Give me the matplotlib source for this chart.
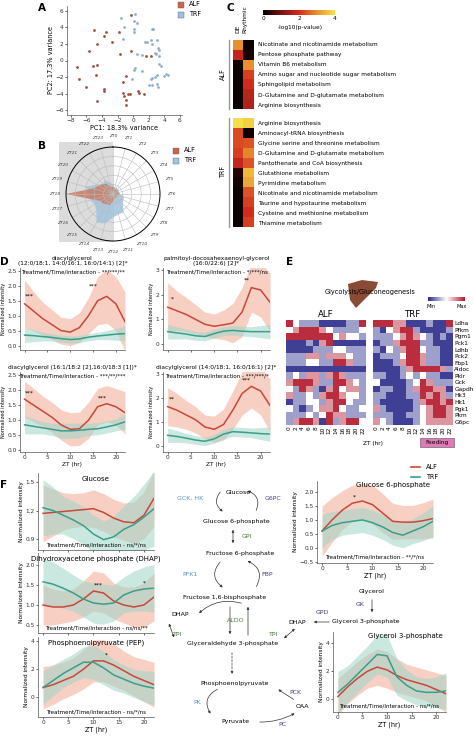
import numpy as np
import matplotlib
matplotlib.use("Agg")
import matplotlib.pyplot as plt
from matplotlib.colors import LinearSegmentedColormap
from matplotlib.patches import FancyArrowPatch, Rectangle, Polygon

W, H = 474, 736
ALF_C, TRF_C = "#c8483a", "#3a9e8c"
ALF_F, TRF_F = "#f2a892", "#9fd6c8"
ALF_PT, TRF_PT = "#a0503c", "#8fb0cc"
BLUE_E, PURP_E, GREEN_E = "#5b8fd0", "#4a3d8f", "#4a7a3a"
FS = 4.2

# ---------------- data ----------------
# A: PCA
alf_pc1 = [-0.3, -5, -3.7, -3.5, -1.8, -4.6, -2.7, -5.7, -1.7, -0.3, 1.7, 2.3, -7.2, -6.9, -5.1, -4.7, -4.8, -6,
           -3.7, -3.8, -1.3, -0.9, -1.3, -1.2, -0.9, -0.9, -0.6, 0.7, 0.8, 1.4, -4.6, -0.4]
alf_pc2 = [5.5, 3.7, 3.0, 3.5, 3.5, 2.0, 2.2, 1.1, 0.8, 1.2, 0.6, 0.5, -0.8, -2.3, -0.7, -0.6, -1.8, -3.2,
           -3.5, -3.7, -2.6, -1.9, -3.9, -4.3, -4.8, -5.4, -4.1, -3.7, -3.9, -4.1, -4.9, -4.0]
trf_pc1 = [-1.5, 0.2, 0.1, 0.5, -1.2, 0.1, 0.1, -1.3, 1.5, 1.8, 2.3, 2.4, 2.6, 3.1, 2.5, 3.2, 3.3, 2.8, 3.0, 1.2,
           3.4, 0.5, 3.3, 3.6, 4.2, 4.5, 4.0, 3.1, 2.8, 2.5, 2.3, 1.2, 0.2, 0.1, -0.1, 2.0, 2.5, 3.2, 3.1]
trf_pc2 = [5.2, 5.6, 4.8, 4.5, 4.0, 3.8, 3.4, 2.6, 2.2, 2.3, 2.5, 3.8, 3.8, 2.5, 2.0, 1.5, 1.3, 0.9, 0.8, 0.7,
           0.6, 0.8, -0.4, -0.7, -1.6, -1.7, -1.9, -1.8, -2.0, -2.1, -2.3, -1.3, -0.9, -1.2, -2.3, -3.0, -3.0, -3.2, -2.9]

# B: radar (ZT0..ZT23)
zt_labels = ["ZT%d" % i for i in range(24)]
radar_alf = [0.15, 0.12, 0.12, 0.12, 0.12, 0.12, 0.15, 0.1, 0.1, 0.1, 0.1, 0.1, 0.15, 0.25, 0.25, 0.3,
             0.3, 0.45, 1.0, 0.45, 0.35, 0.3, 0.25, 0.15]
radar_trf = [0.2, 0.15, 0.15, 0.15, 0.15, 0.12, 0.15, 0.25, 0.25, 0.3, 0.45, 0.45, 0.5, 0.65, 0.7, 0.5,
             0.45, 0.5, 0.5, 0.6, 0.4, 0.3, 0.35, 0.25]

# C: pathway enrichment
alf_paths = ["Nicotinate and nicotinamide metabolism", "Pentose phosphate pathway", "Vitamin B6 metabolism",
             "Amino sugar and nucleotide sugar metabolism", "Sphingolipid metabolism",
             "D-Glutamine and D-glutamate metabolism", "Arginine biosynthesis"]
alf_de = [3.0, 1.8, 0.1, 0.1, 0.1, 0.1, 0.1]
alf_rhy = [0.1, 0.2, 3.0, 2.2, 2.0, 1.7, 1.6]
trf_paths = ["Arginine biosynthesis", "Aminoacyl-tRNA biosynthesis", "Glycine serine and threonine metabolism",
             "D-Glutamine and D-glutamate metabolism", "Pantothenate and CoA biosynthesis",
             "Glutathione metabolism", "Pyrimidine metabolism", "Nicotinate and nicotinamide metabolism",
             "Taurine and hypotaurine metabolism", "Cysteine and methionine metabolism", "Thiamine metabolism"]
trf_de = [4.0, 2.3, 2.3, 2.2, 1.8, 0.3, 0.2, 0.1, 0.1, 0.1, 0.1]
trf_rhy = [3.8, 0.1, 2.4, 2.9, 2.4, 3.5, 3.3, 2.4, 2.2, 2.0, 2.2]

# D / F: smoothed profiles
zt = [0, 2, 4, 6, 8, 10, 12, 14, 16, 18, 20, 22]
d1_alf = [1.4, 1.15, 0.9, 0.7, 0.5, 0.45, 0.6, 1.0, 1.5, 1.65, 1.4, 0.8]
d1_trf = [0.35, 0.33, 0.3, 0.27, 0.23, 0.2, 0.22, 0.28, 0.32, 0.35, 0.38, 0.4]
d1_alf_hw = [0.8, 0.65, 0.55, 0.5, 0.45, 0.45, 0.5, 0.6, 0.8, 0.9, 0.9, 1.0]
d1_trf_hw = [0.25, 0.2, 0.15, 0.12, 0.12, 0.12, 0.12, 0.12, 0.12, 0.15, 0.2, 0.25]
d2_alf = [1.5, 1.35, 1.2, 1.0, 0.8, 0.72, 0.78, 0.85, 1.3, 2.3, 2.2, 1.7]
d2_trf = [0.5, 0.45, 0.4, 0.33, 0.3, 0.42, 0.52, 0.55, 0.52, 0.5, 0.5, 0.5]
d2_alf_hw = [1.0, 0.8, 0.7, 0.6, 0.5, 0.5, 0.6, 0.8, 1.0, 1.0, 1.1, 1.2]
d2_trf_hw = [0.3, 0.25, 0.2, 0.18, 0.18, 0.18, 0.18, 0.2, 0.2, 0.2, 0.25, 0.3]
d3_alf = [1.7, 1.5, 1.3, 1.1, 0.85, 0.7, 0.72, 1.0, 1.45, 1.55, 1.45, 1.25]
d3_trf = [0.85, 0.8, 0.75, 0.7, 0.65, 0.65, 0.67, 0.7, 0.72, 0.78, 0.85, 0.95]
d3_alf_hw = [0.6, 0.55, 0.5, 0.5, 0.5, 0.55, 0.55, 0.6, 0.6, 0.6, 0.6, 0.7]
d3_trf_hw = [0.3, 0.25, 0.2, 0.2, 0.25, 0.25, 0.25, 0.2, 0.2, 0.2, 0.2, 0.25]
d4_alf = [1.65, 1.5, 1.3, 1.1, 0.8, 0.7, 0.9, 1.5, 2.2, 2.5, 2.3, 1.7]
d4_trf = [0.45, 0.4, 0.33, 0.25, 0.2, 0.3, 0.5, 0.6, 0.58, 0.55, 0.52, 0.5]
d4_alf_hw = [0.8, 0.7, 0.6, 0.55, 0.5, 0.55, 0.65, 0.8, 0.9, 0.9, 1.0, 1.1]
d4_trf_hw = [0.3, 0.25, 0.2, 0.18, 0.18, 0.18, 0.2, 0.2, 0.2, 0.2, 0.25, 0.3]

glc_alf = [1.17, 1.18, 1.19, 1.2, 1.21, 1.22, 1.18, 1.12, 1.08, 1.07, 1.15, 1.33]
glc_trf = [1.23, 1.2, 1.15, 1.1, 1.04, 0.95, 0.89, 0.92, 1.0, 1.05, 1.13, 1.22]
glc_alf_hw = [0.3, 0.25, 0.2, 0.18, 0.18, 0.2, 0.2, 0.2, 0.2, 0.22, 0.25, 0.3]
glc_trf_hw = [0.3, 0.25, 0.2, 0.2, 0.2, 0.2, 0.2, 0.22, 0.25, 0.3, 0.35, 0.4]
dhap_alf = [1.0, 0.95, 0.95, 1.0, 1.15, 1.35, 1.3, 1.1, 1.0, 0.95, 1.0, 1.2]
dhap_trf = [1.58, 1.52, 1.42, 1.3, 1.15, 1.05, 1.02, 1.05, 1.25, 1.35, 1.4, 1.42]
dhap_alf_hw = [0.5, 0.45, 0.4, 0.4, 0.45, 0.5, 0.5, 0.45, 0.45, 0.5, 0.55, 0.6]
dhap_trf_hw = [0.6, 0.55, 0.5, 0.45, 0.45, 0.5, 0.5, 0.45, 0.45, 0.5, 0.55, 0.6]
pep_alf = [0.7, 0.9, 1.2, 1.5, 2.0, 2.6, 2.6, 2.3, 1.9, 1.5, 1.2, 0.9]
pep_trf = [0.7, 1.2, 1.7, 2.1, 2.5, 2.5, 2.1, 1.6, 1.3, 1.0, 0.8, 0.65]
pep_alf_hw = [1.5, 1.4, 1.3, 1.3, 1.4, 1.5, 1.5, 1.5, 1.4, 1.4, 1.5, 1.6]
pep_trf_hw = [1.2, 1.1, 1.0, 1.0, 1.1, 1.2, 1.2, 1.1, 1.0, 1.0, 1.1, 1.2]
g6p_alf = [0.6, 1.0, 1.35, 1.6, 1.68, 1.55, 1.25, 0.95, 0.92, 0.92, 0.97, 1.05]
g6p_trf = [0.6, 0.8, 0.9, 0.95, 1.0, 0.9, 0.75, 0.55, 0.45, 0.6, 0.75, 0.95]
g6p_alf_hw = [0.9, 0.8, 0.7, 0.65, 0.65, 0.7, 0.7, 0.65, 0.6, 0.6, 0.65, 0.7]
g6p_trf_hw = [0.6, 0.5, 0.45, 0.45, 0.45, 0.45, 0.45, 0.45, 0.45, 0.45, 0.5, 0.55]
gro3p_alf = [0.2, 0.9, 1.5, 2.0, 2.3, 2.1, 1.7, 1.4, 1.2, 1.0, 0.7, 0.4]
gro3p_trf = [0.5, 1.1, 1.8, 2.5, 3.2, 3.1, 1.6, 1.0, 0.6, 0.5, 0.5, 0.6]
gro3p_alf_hw = [1.3, 1.2, 1.2, 1.2, 1.3, 1.3, 1.2, 1.1, 1.1, 1.1, 1.2, 1.3]
gro3p_trf_hw = [1.5, 1.3, 1.3, 1.3, 1.4, 1.5, 1.3, 1.1, 1.0, 1.0, 1.1, 1.3]

# E: gene heatmaps (R=high, B=low)
genes = ["Ldha", "Pfkm", "Pgm1", "Pck1", "Ldhb", "Pck2", "Fbp1", "Aldoc", "Pklr", "Gck", "Gapdh", "Hk3",
         "Hk1", "Pgk1", "Pkm", "G6pc"]
heat_alf = ["RwbbbBBBBbbR", "wrRRRrwbbbbw", "RRRRRRRwrwwb", "BBBbBrRBBBBB", "BBBBbbbwwbbb", "bbbrrbrrrwbb",
            "bbbwwbbRRrbb", "BBBBBBBBBBBB", "bwbrrbrRrbbb", "rRRRrbbRRrwb", "wbRrbBrRwrrb", "rbbwbrRRrwwb",
            "BbbwwbrRRwbb", "wbBbwrrRwbbw", "bbbwbwRrrbbb", "brRRrBRbrRRw"]
heat_trf = ["RRRrrBBBbBBR", "bBwrRRbBBBBb", "bbbwrRrwbBbB", "BbbrRRRbbBBB", "bBwbrRRwbbBB", "BbbbwRRrbbBB",
            "BBBbrRRrbbBB", "BBBBbrRRRRrb", "bbBBbwbwbbBB", "wBBBBbwRrbbb", "BbbBBbrRRrrB", "bbBBBbbRrRrb",
            "bBBBBBbrRRrR", "rbBBBBbwrRRr", "bbbBBbbwrRRr", "rwbBBBbwrrrr"]
LEVEL = {"R": 0.9, "r": 0.45, "w": 0.0, "b": -0.45, "B": -0.9}
zt_heat = [str(z) for z in zt]

# ---------------- figure ----------------
fig = plt.figure(figsize=(W / 100, H / 100), dpi=100)


def ax_px(x0, y0, w, h, **kw):
    return fig.add_axes([x0 / W, 1 - (y0 + h) / H, w / W, h / H], **kw)


def ftext(x, y, s, **kw):
    kw.setdefault("fontsize", FS)
    kw.setdefault("ha", "center")
    kw.setdefault("va", "center")
    fig.text(x / W, 1 - y / H, s, **kw)


def style(ax):
    for sp in ["top", "right"]:
        ax.spines[sp].set_visible(False)
    for sp in ["left", "bottom"]:
        ax.spines[sp].set_linewidth(0.5)
        ax.spines[sp].set_color("#555555")
    ax.tick_params(labelsize=FS, length=1.5, width=0.5, pad=1, colors="#333333")


def curves(ax, alf, alf_hw, trf, trf_hw):
    a, ah, t, th = map(np.array, (alf, alf_hw, trf, trf_hw))
    ax.fill_between(zt, a - ah, a + ah, color=ALF_F, alpha=0.55, lw=0)
    ax.fill_between(zt, t - th, t + th, color=TRF_F, alpha=0.55, lw=0)
    ax.plot(zt, alf, color=ALF_C, lw=1.1)
    ax.plot(zt, trf, color=TRF_C, lw=1.1)
    ax.set_xlim(-1, 22)
    ax.set_xticks([0, 5, 10, 15, 20])
    style(ax)


# panel labels
for lab, x, y in [("A", 42, 8), ("B", 42, 146), ("C", 230, 8), ("D", 4, 262), ("E", 290, 262), ("F", 4, 485)]:
    ftext(x, y, lab, fontsize=7.5, fontweight="bold")

# ---- A ----
ax = ax_px(67, 6, 115, 109)
ax.scatter(alf_pc1, alf_pc2, s=4, color=ALF_PT, lw=0)
ax.scatter(trf_pc1, trf_pc2, s=4, color=TRF_PT, lw=0)
ax.set_xlim(-8.5, 6.3)
ax.set_ylim(-6.6, 6.6)
ax.set_xticks(range(-8, 7, 2))
ax.set_yticks(range(-6, 7, 2))
style(ax)
ax.set_xlabel("PC1: 18.3% variance", fontsize=FS + 0.5, labelpad=1)
ax.set_ylabel("PC2: 17.3% variance", fontsize=FS + 0.5, labelpad=1)
for (lab, col, y) in [("ALF", "#c8644a", 4), ("TRF", "#9fc0dc", 14)]:
    fig.patches.append(Rectangle((178 / W, 1 - (y + 3.5) / H), 6 / W, 6 / H, transform=fig.transFigure,
                                 facecolor=col, edgecolor="#666666", lw=0.3))
    ftext(189, y + 0.5, lab, ha="left", fontsize=FS + 0.5)

# ---- B ----
bg = ax_px(59, 142, 54, 100)
bg.set_facecolor("#dcdcdc")
bg.set_xticks([])
bg.set_yticks([])
for sp in bg.spines.values():
    sp.set_visible(False)
bg.set_zorder(0)
ax = ax_px(66, 147, 94, 94, projection="polar")
ax.set_zorder(1)
ax.set_facecolor("none")
ax.set_theta_zero_location("N")
ax.set_theta_direction(-1)
th = np.deg2rad(np.arange(24) * 15)
thc = np.append(th, th[0])
ax.fill(thc, radar_trf + radar_trf[:1], color="#9fc5e0", alpha=0.85, lw=0)
ax.fill(thc, radar_alf + radar_alf[:1], color="#c8806a", alpha=0.9, lw=0)
ax.set_ylim(0, 1)
ax.set_yticks([0.2, 0.4, 0.6, 0.8])
ax.set_yticklabels([])
ax.set_xticks(th)
ax.set_xticklabels(zt_labels, fontsize=3.2, style="italic", color="#444444")
ax.tick_params(pad=-2.5)
ax.grid(color="#bbbbbb", lw=0.4)
ax.spines["polar"].set_linewidth(0.7)
for (lab, col, y) in [("ALF", "#c8644a", 150), ("TRF", "#9fc5e0", 160)]:
    fig.patches.append(Rectangle((173 / W, 1 - (y + 3.5) / H), 6 / W, 6 / H, transform=fig.transFigure,
                                 facecolor=col, edgecolor="#666666", lw=0.3))
    ftext(184, y + 0.5, lab, ha="left", fontsize=FS + 0.5)

# ---- C ----
cmap_c = LinearSegmentedColormap.from_list("c", ["#000000", "#7a1414", "#d42a1e", "#e8902e", "#f5e04a"])
ax = ax_px(233, 40, 20, 69)
ax.imshow(np.array([alf_de, alf_rhy]).T, cmap=cmap_c, vmin=0, vmax=4, aspect="auto")
ax.axis("off")
ax = ax_px(233, 118, 20, 109)
ax.imshow(np.array([trf_de, trf_rhy]).T, cmap=cmap_c, vmin=0, vmax=4, aspect="auto")
ax.axis("off")
for i, p in enumerate(alf_paths):
    ftext(258, 44 + i * 10.2, p, ha="left", fontsize=FS)
for i, p in enumerate(trf_paths):
    ftext(258, 123.5 + i * 10, p, ha="left", fontsize=FS)
ftext(238, 33, "DE", rotation=90, va="bottom")
ftext(245, 33, "Rhythmic", rotation=90, va="bottom")
fig.add_artist(plt.Line2D([229 / W] * 2, [1 - 40 / H, 1 - 109 / H], color="#999999", lw=1))
fig.add_artist(plt.Line2D([229 / W] * 2, [1 - 118 / H, 1 - 227 / H], color="#999999", lw=1))
ftext(223, 74, "ALF", rotation=90, fontsize=FS + 0.5)
ftext(223, 172, "TRF", rotation=90, fontsize=FS + 0.5)
cax = ax_px(263, 10, 72, 5)
cax.imshow(np.linspace(0, 4, 100)[None, :], cmap=cmap_c, aspect="auto", extent=[0, 4, 0, 1])
cax.set_yticks([])
cax.set_xticks([0, 2, 4])
cax.tick_params(labelsize=FS, length=0, pad=1)
for sp in cax.spines.values():
    sp.set_visible(False)
ftext(300, 28, "-log10(p-value)")

# ---- D ----
d_specs = [
    ((20, 268, 105, 82), d1_alf, d1_alf_hw, d1_trf, d1_trf_hw, [0, 0.5, 1.0, 1.5, 2.0, 2.5], (-0.15, 2.6),
     "diacylglycerol\n(12:0/18:1, 14:0/16:1, 16:0/14:1) [2]*", "Treatment/Time/Interaction - **/***/**",
     [(1, 1.6, "***"), (15, 1.95, "***")]),
    ((163, 268, 107, 82), d2_alf, d2_alf_hw, d2_trf, d2_trf_hw, [0, 1, 2, 3], (-0.25, 3.1),
     "palmitoyl-docosahexaenoyl-glycerol\n(16:0/22:6) [2]*", "Treatment/Time/Interaction - */***/ns",
     [(1, 1.75, "*"), (17, 2.55, "**")]),
    ((20, 372, 105, 80), d3_alf, d3_alf_hw, d3_trf, d3_trf_hw, [0, 0.5, 1.0, 1.5, 2.0, 2.5], (-0.05, 2.6),
     "diacylglycerol (16:1/18:2 [2],16:0/18:3 [1])*", "Treatment/Time/Interaction - ***/**/***",
     [(1, 1.85, "***"), (17, 1.7, "***")]),
    ((163, 372, 107, 80), d4_alf, d4_alf_hw, d4_trf, d4_trf_hw, [0, 1, 2, 3], (-0.25, 3.1),
     "diacylglycerol (14:0/18:1, 16:0/16:1) [2]*", "Treatment/Time/Interaction - ***/***/*",
     [(1, 1.9, "**"), (17, 2.7, "***")]),
]
for i, (box, a, ah, t, thw, yt, yl, title, stat, stars) in enumerate(d_specs):
    ax = ax_px(*box)
    curves(ax, a, ah, t, thw)
    ax.set_yticks(yt)
    ax.set_ylim(*yl)
    ax.set_ylabel("Normalized intensity", fontsize=3.6, labelpad=1)
    ax.set_title(title, fontsize=FS, pad=2, linespacing=1.0)
    ax.text(0.5, 0.93, stat, transform=ax.transAxes, ha="center", fontsize=FS - 0.2)
    for x, y, s in stars:
        ax.text(x, y, s, ha="center", fontsize=FS)
    if i >= 2:
        ax.set_xlabel("ZT (hr)", fontsize=FS, labelpad=1)
    else:
        ax.set_xticklabels([])

# ---- E ----
ftext(370, 292, "Glycolysis/Gluconeogenesis", fontsize=FS + 0.5)
liver_x = [348, 362, 378, 376, 366, 356, 350]
liver_y = [284, 280, 282, 288, 298, 308, 300]
fig.patches.append(Polygon(np.column_stack([np.array(liver_x) / W, 1 - np.array(liver_y) / H]),
                           closed=True, transform=fig.transFigure, facecolor="#8b4a35", edgecolor="none"))
cmap_e = LinearSegmentedColormap.from_list("e", ["#2c2c8c", "#ffffff", "#b2182b"])
cax = ax_px(428, 297, 37, 4)
cax.imshow(np.linspace(0, 1, 100)[None, :], cmap=cmap_e, aspect="auto")
cax.axis("off")
ftext(431, 306, "Min", fontsize=3.6)
ftext(462, 306, "Max", fontsize=3.6)
for j, (name, rows, x0) in enumerate([("ALF", heat_alf, 286), ("TRF", heat_trf, 373)]):
    ax = ax_px(x0, 320, 80, 105)
    mat = np.array([[LEVEL[c] for c in r] for r in rows])
    ax.imshow(mat, cmap=cmap_e, vmin=-1, vmax=1, aspect="auto")
    ax.set_xticks(range(12))
    ax.set_xticklabels(zt_heat, rotation=90, fontsize=FS)
    ax.tick_params(length=0, pad=1)
    ax.set_title(name, fontsize=FS + 2, pad=2)
    if j == 1:
        ax.yaxis.tick_right()
        ax.set_yticks(range(16))
        ax.set_yticklabels(genes, fontsize=FS)
    else:
        ax.set_yticks([])
    for sp in ax.spines.values():
        sp.set_visible(False)
ftext(373, 444, "ZT (hr)")
fig.patches.append(Rectangle((420 / W, 1 - 447 / H), 34 / W, 9 / H, transform=fig.transFigure,
                             facecolor="#e07ab8", edgecolor="#555555", lw=0.4))
ftext(437, 442.5, "Feeding", fontsize=FS)

# F legend
for lab, col, y in [("ALF", ALF_C, 467), ("TRF", TRF_C, 477)]:
    fig.add_artist(plt.Line2D([411 / W, 420 / W], [1 - y / H] * 2, color=col, lw=1.2))
    ftext(426, y, lab, ha="left", fontsize=FS + 0.5)

# ---- F curves ----
f_specs = [
    ((38, 473, 116, 77), glc_alf, glc_alf_hw, glc_trf, glc_trf_hw, [0.9, 1.2, 1.5], (0.78, 1.6),
     "Glucose", "Treatment/Time/Interaction - ns/*/ns", []),
    ((38, 553, 116, 80), dhap_alf, dhap_alf_hw, dhap_trf, dhap_trf_hw, [0.5, 1.0, 1.5, 2.0], (0.3, 2.3),
     "Dihydroxyacetone phosphate (DHAP)", "Treatment/Time/Interaction - ns/ns/**",
     [(11, 1.45, "***"), (20, 1.5, "*")]),
    ((38, 637, 116, 80), pep_alf, pep_alf_hw, pep_trf, pep_trf_hw, [0, 2, 4], (-1.4, 4.3),
     "Phosphoenolpyruvate (PEP)", "Treatment/Time/Interaction - ns/*/ns", [(12.5, 2.9, "*")]),
    ((317, 481, 116, 82), g6p_alf, g6p_alf_hw, g6p_trf, g6p_trf_hw, [-0.5, 0, 0.5, 1.0, 1.5, 2.0], (-0.55, 2.4),
     "Glucose 6-phosphate", "Treatment/Time/Interaction - **/*/ns", [(6.5, 1.78, "*")]),
    ((333, 632, 113, 80), gro3p_alf, gro3p_alf_hw, gro3p_trf, gro3p_trf_hw, [0, 2, 4], (-0.9, 4.8),
     "Glycerol 3-phosphate", "Treatment/Time/Interaction - ns/*/ns", []),
]
for i, (box, a, ah, t, thw, yt, yl, title, stat, stars) in enumerate(f_specs):
    ax = ax_px(*box)
    curves(ax, a, ah, t, thw)
    ax.set_yticks(yt)
    ax.set_ylim(*yl)
    ax.set_ylabel("Normalized intensity", fontsize=FS, labelpad=1)
    if i >= 3:
        ax.text(0.97, 0.93, title, transform=ax.transAxes, ha="right", fontsize=FS + 0.8)
    else:
        ax.text(0.5, 0.9, title, transform=ax.transAxes, ha="center", fontsize=FS + 0.8)
    ax.text(0.5, 0.05, stat, transform=ax.transAxes, ha="center", fontsize=FS - 0.2)
    for x, y, s in stars:
        ax.text(x, y, s, ha="center", fontsize=FS)
    if i in (2, 3, 4):
        ax.set_xlabel("ZT (hr)", fontsize=FS + 0.5, labelpad=1)
    else:
        ax.set_xticklabels([])

# ---- pathway diagram ----
PFS = FS + 0.3
for s, x, y in [("Glucose", 238, 492), ("Glucose 6-phosphate", 236, 522), ("Fructose 6-phosphate", 240, 553),
                ("Fructose 1,6-bisphosphate", 225, 598), ("DHAP", 180, 615), ("Glyceraldehyde 3-phosphate", 233, 644),
                ("Phosphoenolpyruvate", 235, 684), ("Pyruvate", 235, 722), ("OAA", 302, 707),
                ("Glycerol", 372, 591), ("Glycerol 3-phosphate", 366, 622), ("DHAP", 297, 622)]:
    ftext(x, y, s, fontsize=PFS)
for s, x, y, c in [("GCK, HK", 190, 498, BLUE_E), ("G6PC", 273, 498, PURP_E), ("GPI", 247, 537, GREEN_E),
                   ("PFK1", 190, 574, BLUE_E), ("FBP", 267, 574, PURP_E), ("ALDO", 236, 621, GREEN_E),
                   ("TPI", 178, 634, GREEN_E), ("TPI", 274, 635, GREEN_E), ("GPD", 322, 612, PURP_E),
                   ("GK", 360, 605, PURP_E), ("PK", 197, 703, BLUE_E), ("PCK", 295, 693, PURP_E),
                   ("PC", 282, 724, PURP_E)]:
    ftext(x, y, s, fontsize=PFS, color=c)


def arrow(x0, y0, x1, y1, rad=0.0, style="-|>", ls="-"):
    fig.add_artist(FancyArrowPatch((x0 / W, 1 - y0 / H), (x1 / W, 1 - y1 / H), transform=fig.transFigure,
                                   arrowstyle=style, mutation_scale=3.5, lw=0.5, color="#333333",
                                   connectionstyle="arc3,rad=%s" % rad, linestyle=ls))


arrow(222, 490, 225, 513, rad=0.6)
arrow(255, 513, 245, 490, rad=0.6)
arrow(233, 527, 233, 546, style="<|-|>")
arrow(222, 560, 225, 589, rad=0.6)
arrow(255, 589, 245, 560, rad=0.6)
arrow(230, 604, 230, 637)
arrow(248, 638, 248, 604)
arrow(244, 604, 197, 615, rad=0.3)
arrow(168, 621, 175, 640, style="<|-|>")
arrow(232, 650, 232, 677, ls=(0, (3, 2)))
arrow(220, 688, 212, 716, rad=0.6)
arrow(282, 640, 297, 627, style="<|-|>")
arrow(332, 622, 311, 622)
arrow(372, 597, 372, 615)
arrow(257, 722, 297, 712, rad=0.15)
arrow(296, 701, 276, 688)

fig.savefig("out.png", dpi=100)
